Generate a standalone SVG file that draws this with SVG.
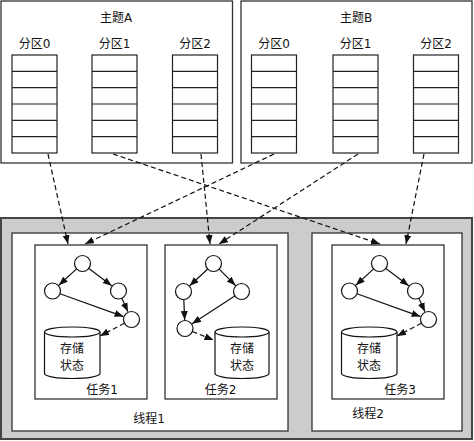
<svg xmlns="http://www.w3.org/2000/svg" width="474" height="441" viewBox="0 0 474 441">
<defs>
<style>
.box{fill:#fff;stroke:#333;stroke-width:1.3}
.outer{fill:#ccc;stroke:#444;stroke-width:2}
.part{fill:#fff;stroke:#222;stroke-width:1.2}
.row{stroke:#222;stroke-width:1.2}
.t{font-family:"DejaVu Sans","Noto Sans CJK SC",sans-serif;font-size:12px;fill:#111;text-anchor:middle}
.c{fill:#fff;stroke:#111;stroke-width:1.2}
.e{stroke:#111;stroke-width:1.2;fill:none;marker-end:url(#ah)}
.d{stroke:#111;stroke-width:1.2;fill:none;stroke-dasharray:5 3;marker-end:url(#ah)}
.cyl{fill:#fff;stroke:#111;stroke-width:1.2}
</style>
<marker id="ah" markerUnits="userSpaceOnUse" markerWidth="10" markerHeight="8" refX="9" refY="3.5" orient="auto">
<path d="M0,0 L9,3.5 L0,7 z" fill="#111"/>
</marker>
<g id="partition">
<rect class="part" x="0" y="0" width="45" height="98"/>
<line class="row" x1="0" y1="16.33" x2="45" y2="16.33"/>
<line class="row" x1="0" y1="32.67" x2="45" y2="32.67"/>
<line class="row" x1="0" y1="49" x2="45" y2="49"/>
<line class="row" x1="0" y1="65.33" x2="45" y2="65.33"/>
<line class="row" x1="0" y1="81.67" x2="45" y2="81.67"/>
</g>
</defs>

<g id="topicA">
<rect class="box" x="1" y="1" width="231.5" height="162"/>
<text class="t" x="116" y="21.5">主题A</text>
<text class="t" x="34.5" y="47.5">分区0</text>
<text class="t" x="114.5" y="47.5">分区1</text>
<text class="t" x="195" y="47.5">分区2</text>
<use href="#partition" x="12" y="55"/>
<use href="#partition" x="92" y="55"/>
<use href="#partition" x="172.5" y="55"/>
</g>

<g id="topicB">
<rect class="box" x="241" y="1" width="231" height="162"/>
<text class="t" x="356" y="21.5">主题B</text>
<text class="t" x="274" y="47.5">分区0</text>
<text class="t" x="355.5" y="47.5">分区1</text>
<text class="t" x="436" y="47.5">分区2</text>
<use href="#partition" x="251.5" y="55"/>
<use href="#partition" x="333" y="55"/>
<use href="#partition" x="413.5" y="55"/>
</g>

<g id="container">
<rect class="outer" x="1" y="218" width="471" height="221"/>
</g>

<g id="thread1">
<rect class="box" x="12" y="233" width="276" height="198"/>
<text class="t" x="149" y="422.5">线程1</text>
</g>

<g id="thread2">
<rect class="box" x="312" y="233" width="150" height="198"/>
<text class="t" x="368" y="417.5">线程2</text>
</g>

<g id="task1">
<rect class="box" x="35" y="245" width="112" height="154"/>
<path class="cyl" d="M44.5,332 A27.75,5 0 0 1 100,332 V373.5 A27.75,5 0 0 1 44.5,373.5 Z"/>
<path class="cyl" d="M44.5,332 A27.75,5 0 0 0 100,332"/>
<text class="t" x="72" y="352.5">存储</text>
<text class="t" x="72" y="369.5">状态</text>
<text class="t" x="102" y="393.5">任务1</text>
<circle class="c" cx="82.5" cy="263.5" r="8"/>
<circle class="c" cx="52.5" cy="291" r="8"/>
<circle class="c" cx="118.5" cy="291" r="8"/>
<circle class="c" cx="131.5" cy="319.5" r="8"/>
</g>

<g id="task2">
<rect class="box" x="165" y="245" width="112" height="154"/>
<path class="cyl" d="M215,332 A27,5 0 0 1 269,332 V373.5 A27,5 0 0 1 215,373.5 Z"/>
<path class="cyl" d="M215,332 A27,5 0 0 0 269,332"/>
<text class="t" x="242" y="352.5">存储</text>
<text class="t" x="242" y="369.5">状态</text>
<text class="t" x="220.5" y="393.5">任务2</text>
<circle class="c" cx="213.5" cy="263.5" r="8"/>
<circle class="c" cx="183.5" cy="291.5" r="8"/>
<circle class="c" cx="241.5" cy="291.5" r="8"/>
<circle class="c" cx="185" cy="328.5" r="8"/>
</g>

<g id="task3">
<rect class="box" x="332" y="245" width="112" height="154"/>
<path class="cyl" d="M341.5,332 A27.75,5 0 0 1 397,332 V373.5 A27.75,5 0 0 1 341.5,373.5 Z"/>
<path class="cyl" d="M341.5,332 A27.75,5 0 0 0 397,332"/>
<text class="t" x="369" y="352.5">存储</text>
<text class="t" x="369" y="369.5">状态</text>
<text class="t" x="400" y="393.5">任务3</text>
<circle class="c" cx="379.5" cy="263.5" r="8"/>
<circle class="c" cx="349.5" cy="291" r="8"/>
<circle class="c" cx="415.5" cy="291" r="8"/>
<circle class="c" cx="428.5" cy="319.5" r="8"/>
</g>

<g id="connectors">
<line class="e" x1="76.6" y1="268.9" x2="58.8" y2="285.3"/>
<line class="e" x1="88.9" y1="268.4" x2="111.7" y2="285.8"/>
<line class="e" x1="121.8" y1="298.3" x2="128" y2="311.8"/>
<line class="e" x1="60" y1="293.7" x2="123.5" y2="316.6"/>
<line class="d" x1="124.4" y1="323.2" x2="100" y2="336"/>

<line class="e" x1="207.7" y1="269" x2="189.7" y2="285.7"/>
<line class="e" x1="219.2" y1="269.2" x2="235.5" y2="285.5"/>
<line class="e" x1="183.8" y1="299.5" x2="184.7" y2="320"/>
<line class="e" x1="234.8" y1="295.9" x2="192.1" y2="323.8"/>
<line class="d" x1="192.4" y1="331.5" x2="213.5" y2="340"/>

<line class="e" x1="373.6" y1="268.9" x2="355.8" y2="285.3"/>
<line class="e" x1="385.9" y1="268.4" x2="408.7" y2="285.8"/>
<line class="e" x1="418.8" y1="298.3" x2="425" y2="311.8"/>
<line class="e" x1="357" y1="293.7" x2="420.5" y2="316.6"/>
<line class="d" x1="421.4" y1="323.2" x2="397" y2="336"/>

<line class="d" x1="48" y1="154" x2="68" y2="244"/>
<line class="d" x1="113" y1="154" x2="380" y2="244"/>
<line class="d" x1="201" y1="154" x2="210" y2="244"/>
<line class="d" x1="274" y1="154" x2="85" y2="244"/>
<line class="d" x1="358" y1="154" x2="219" y2="244"/>
<line class="d" x1="424" y1="154" x2="406" y2="244"/>
</g>
</svg>
